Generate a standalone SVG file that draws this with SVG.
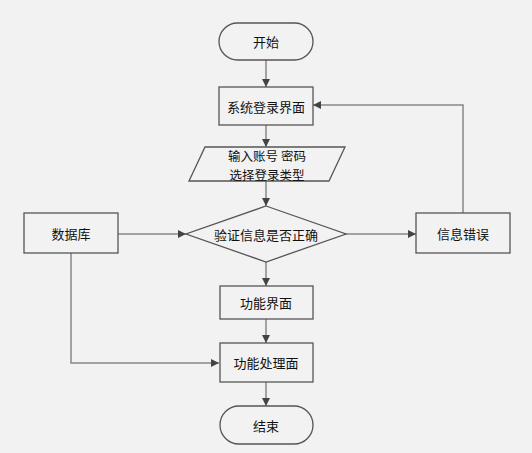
<svg xmlns="http://www.w3.org/2000/svg" width="532" height="453" viewBox="0 0 532 453">
<style>
.n{fill:#f2f2f2;stroke:#555;stroke-width:1.3}
.t{font-family:"Noto Sans CJK SC","Noto Sans",sans-serif;font-size:13px;fill:#111;text-anchor:middle;dominant-baseline:central}
.s{font-size:12.5px}
.c{fill:none;stroke:#888;stroke-width:1.5}
</style>
<defs>
<marker id="a" viewBox="0 0 10 10" refX="10" refY="5" markerWidth="8" markerHeight="8" markerUnits="userSpaceOnUse" orient="auto">
<path d="M0,0 L10,5 L0,10 Z" fill="#444"/>
</marker>
</defs>
<rect width="532" height="453" fill="#f2f2f2"/>
<g id="connectors">
<path class="c" d="M266,60 V87" marker-end="url(#a)"/>
<path class="c" d="M266,125 V147" marker-end="url(#a)"/>
<path class="c" d="M266,181 V206" marker-end="url(#a)"/>
<path class="c" d="M266,262 V286" marker-end="url(#a)"/>
<path class="c" d="M266,319 V343" marker-end="url(#a)"/>
<path class="c" d="M266,382 V406" marker-end="url(#a)"/>
<path class="c" d="M346,234 H416" marker-end="url(#a)"/>
<path class="c" d="M118,234 H186" marker-end="url(#a)"/>
<path class="c" d="M463,213 V105 H313" marker-end="url(#a)"/>
<path class="c" d="M71,253 V363 H219" marker-end="url(#a)"/>
</g>
<g id="start"><rect class="n" x="219" y="23" width="94" height="37" rx="18.5"/><text class="t" x="266" y="41.5">开始</text></g>
<g id="login"><rect class="n" x="219" y="87" width="94" height="38"/><text class="t" x="266" y="106">系统登录界面</text></g>
<g id="input"><polygon class="n" points="205,147 345,147 329,181 189,181"/><text class="t s" x="267" y="155">输入账号 密码</text><text class="t s" x="267" y="174">选择登录类型</text></g>
<g id="verify"><polygon class="n" points="266,206 346,234 266,262 186,234"/><text class="t" x="266" y="234">验证信息是否正确</text></g>
<g id="db"><rect class="n" x="24" y="213" width="94" height="40"/><text class="t" x="71" y="233">数据库</text></g>
<g id="error"><rect class="n" x="416" y="213" width="94" height="40"/><text class="t" x="463" y="233">信息错误</text></g>
<g id="func"><rect class="n" x="220" y="286" width="93" height="33"/><text class="t" x="266" y="302.5">功能界面</text></g>
<g id="proc"><rect class="n" x="220" y="343" width="93" height="39"/><text class="t" x="266" y="362.5">功能处理面</text></g>
<g id="end"><rect class="n" x="220" y="406" width="93" height="38" rx="19"/><text class="t" x="266" y="425">结束</text></g>
</svg>
